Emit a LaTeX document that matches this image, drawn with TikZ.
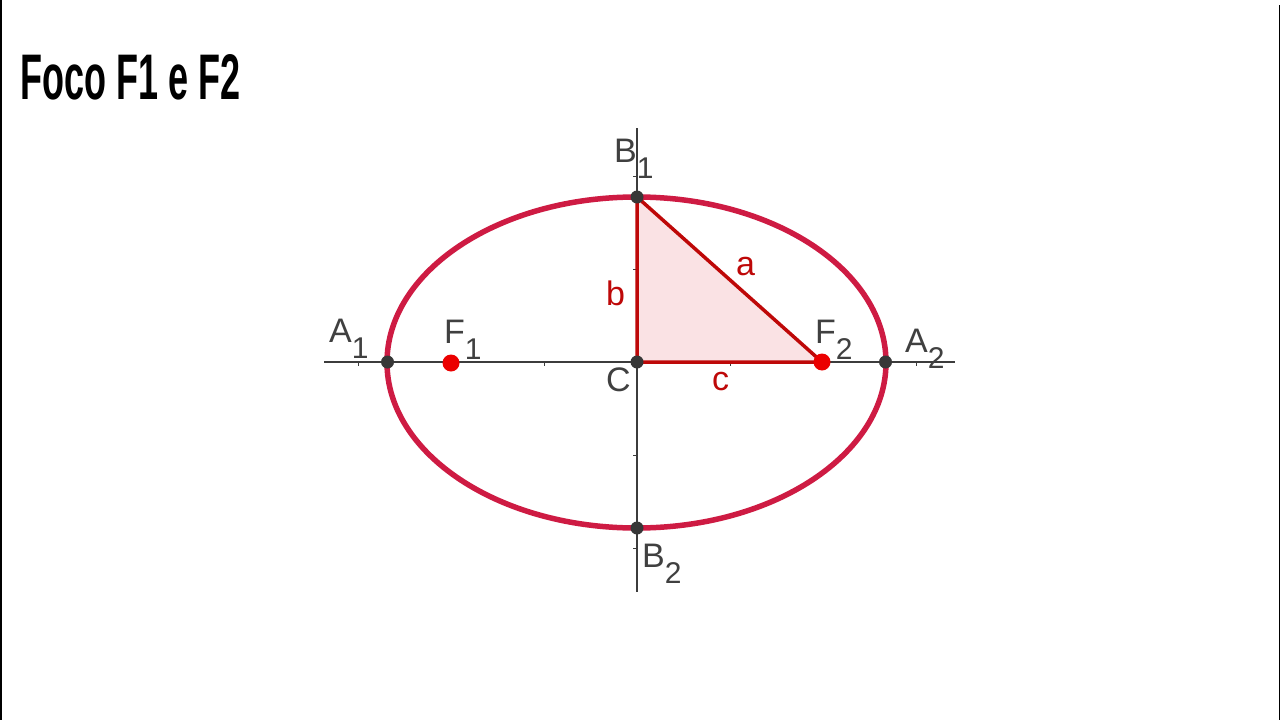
\documentclass[tikz,border=0pt]{standalone}
\usepackage{fontspec}
\setmainfont{Liberation Sans}
\usepackage{graphicx}
\definecolor{ellcol}{RGB}{206,27,67}
\definecolor{trired}{RGB}{190,8,8}
\definecolor{trifill}{RGB}{250,226,228}
\definecolor{lblgray}{RGB}{64,64,64}
\definecolor{axisgray}{RGB}{60,60,60}
\definecolor{focred}{RGB}{235,0,0}
\definecolor{ptdark}{RGB}{55,55,55}
\newcommand{\lblsub}[2]{#1\raisebox{-16pt}{\fontsize{30pt}{30pt}\selectfont #2}}
\tikzset{
  lbl/.style={anchor=base west, inner sep=0pt, text=lblgray, font=\fontsize{34pt}{34pt}\selectfont},
  redlbl/.style={anchor=base west, inner sep=0pt, text=trired, font=\fontsize{34pt}{34pt}\selectfont},
  axisline/.style={draw=axisgray, line width=1.3pt},
  tickline/.style={draw=axisgray, line width=1pt},
  darkpt/.style={fill=ptdark},
  focpt/.style={fill=focred},
}
\begin{document}
\begin{tikzpicture}[x=1pt,y=-1pt]
\useasboundingbox (0,0) rectangle (1280,720);
\fill[white] (0,0) rectangle (1280,720);
% borders
\fill[black] (0,0) rectangle (2,720);
\fill[black] (1278.5,5) rectangle (1280,720);
% title
\node[anchor=south west, inner sep=0pt] (title) at (20,100) {\resizebox{220pt}{45pt}{\bfseries Foco F1 e F2}};
% points
\coordinate (C) at (637,362);
\coordinate (A1) at (387.5,362);
\coordinate (A2) at (885.5,362);
\coordinate (B1) at (637,197);
\coordinate (B2) at (637,528);
\coordinate (F1) at (451,363);
\coordinate (F2) at (822,362);
\coordinate (XL) at (324,362);
\coordinate (XR) at (955,362);
\coordinate (YT) at (637,128);
\coordinate (YB) at (637,592);
% triangle fill
\fill[trifill] (C) -- (B1) -- (F2) -- cycle;
% axes
\draw[axisline] (XL) -- (XR);
\draw[axisline] (YT) -- (YB);
% ticks
\foreach \tx in {358,451,544,730,823,916} { \draw[tickline] (\tx,362) -- (\tx,366); }
\foreach \ty in {176,269,455,548} { \draw[tickline] (637,\ty) -- (633,\ty); }
% triangle outline
\draw[trired, line width=3.5pt, line join=round] (C) -- (B1) -- (F2) -- cycle;
% ellipse
\draw[ellcol, line width=5.5pt] (636.5,362.5) ellipse [x radius=249.5, y radius=165.5];
% dots
\fill[darkpt] (A1) circle (6.5);
\fill[darkpt] (A2) circle (6.5);
\fill[darkpt] (B1) circle (6.5);
\fill[darkpt] (B2) circle (6.5);
\fill[darkpt] (C) circle (6.5);
\fill[focpt] (F1) circle (8.5);
\fill[focpt] (F2) circle (8.5);
% labels
\node[lbl] (lA1) at (329,342) {\lblsub{A}{1}};
\node[lbl] (lF1) at (444,343) {\lblsub{F}{1}};
\node[lbl] (lF2) at (815,343) {\lblsub{F}{2}};
\node[lbl] (lA2) at (905,352) {\lblsub{A}{2}};
\node[lbl] (lB1) at (614,162) {\lblsub{B}{1}};
\node[lbl] (lB2) at (642,567) {\lblsub{B}{2}};
\node[lbl] (lC) at (606,391) {C};
\node[redlbl] (la) at (736,275) {a};
\node[redlbl] (lb) at (606,305) {b};
\node[redlbl] (lc) at (712,390) {c};
\end{tikzpicture}
\end{document}
